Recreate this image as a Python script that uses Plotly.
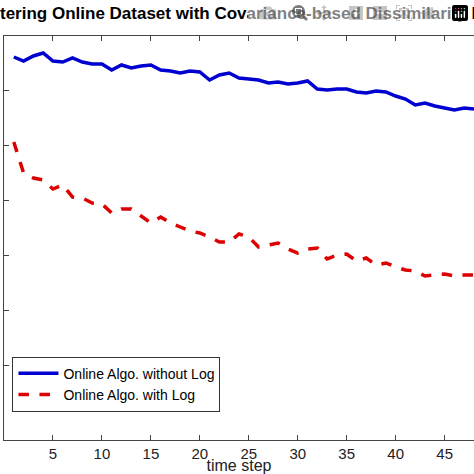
import plotly.graph_objects as go

steps = list(range(1, 49))
without_log = [363,359,364,367,359,358,362,358,356,356,350,355,352,354,355,350,349,347,349,348,340,345,347,342,341,340,337,338,336,337,339,331,330,331,331,328,327,329,328,324,321,315,317,314,312,310,312,311]
with_log = [278,247,242,240,231,235,223,222,217,216,207,211,211,204,197,203,197,193,189,187,183,178,178,186,183,173,175,177,171,167,171,172,161,165,166,159,162,155,157,153,150,149,144,145,146,144,145,145]
x_ticks = [0,5,10,15,20,25,30,35,40,45]
y_ticks = [55,110,165,220,275,330]

fig = go.Figure()
fig.add_trace(go.Scatter(x=steps, y=without_log, mode="lines", name="Online Algo. without Log",
                         line=dict(color="#0000d0", width=3.5)))
fig.add_trace(go.Scatter(x=steps, y=with_log, mode="lines", name="Online Algo. with Log",
                         line=dict(color="#dd0000", width=3.5, dash="dash")))
fig.update_layout(
    width=474, height=474, paper_bgcolor="white", plot_bgcolor="white",
    margin=dict(l=4, r=0, t=36, b=34),
    title=dict(text="<b>tering Online Dataset with Covariance-based Dissimilarity M</b>",
               x=0, xanchor="left", y=0.985, yanchor="top",
               font=dict(family="Liberation Sans, Arial", size=17, color="black")),
    font=dict(family="Liberation Sans, Arial", size=15, color="#222"),
    legend=dict(x=0.018, y=0.07, xanchor="left", yanchor="bottom", bgcolor="white",
                bordercolor="#333", borderwidth=1, font=dict(size=14, color="black"),
                tracegroupgap=0, itemwidth=40),
    showlegend=True,
)
fig.update_xaxes(range=[0, 48], tickvals=x_ticks, ticks="inside", ticklen=5, tickcolor="#444",
                 showline=True, linecolor="#444", mirror="ticks", showgrid=False, zeroline=False,
                 title=dict(text="time step", standoff=2, font=dict(size=16)))
fig.update_yaxes(range=[-20, 384], tickvals=y_ticks, showticklabels=False, ticks="inside", ticklen=5,
                 tickcolor="#444", showline=True, linecolor="#444", showgrid=False, zeroline=False)
fig.write_html("out.html", post_script="document.body.style.margin='0';document.body.style.overflow='hidden';")
